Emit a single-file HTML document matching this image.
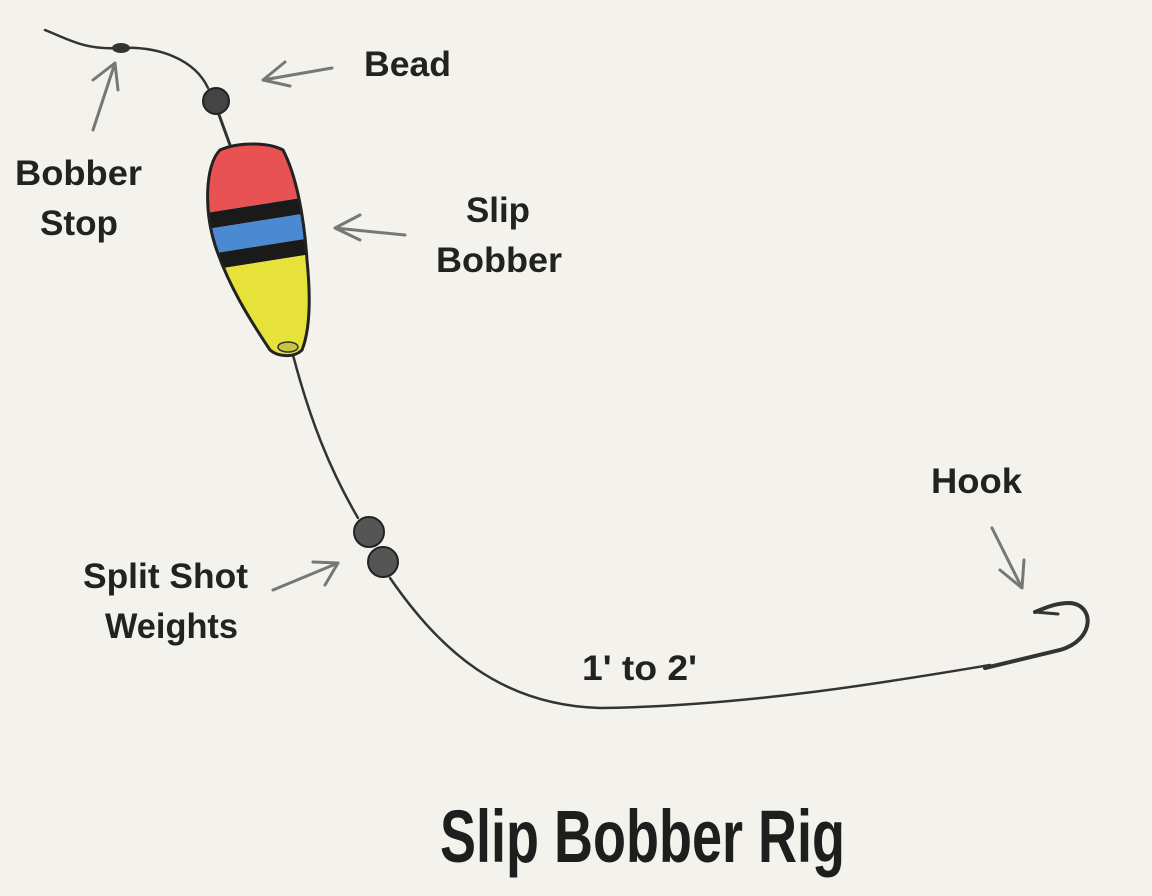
<!DOCTYPE html>
<html><head><meta charset="utf-8"><style>
html,body{margin:0;padding:0;background:#f4f2ec;}
svg{display:block}
text{font-family:"Liberation Sans",sans-serif;font-weight:bold;fill:#222;}
</style></head><body>
<svg width="1152" height="896" viewBox="0 0 1152 896">
<rect width="1152" height="896" fill="#f4f2ec"/>
<g fill="none" stroke="#333" stroke-linecap="round">
<path d="M45 30 C70 40 85 50 120 48 C160 46 195 60 208 88" stroke-width="2.5"/>
<path d="M218 112 L230 145" stroke-width="3"/>
<path d="M293 355 C310 420 330 470 358 518" stroke-width="2.5"/>
<path d="M390 578 C440 650 500 705 600 708 C750 706 900 680 990 665" stroke-width="2.5"/>
<path d="M985 668 L1060 650 C1095 640 1095 605 1070 603 C1055 603 1045 608 1035 612" stroke-width="4"/>
<path d="M1035 612 L1058 614" stroke-width="3"/>
</g>
<ellipse cx="121" cy="48" rx="9" ry="5" fill="#333"/>
<circle cx="216" cy="101" r="13" fill="#444" stroke="#222" stroke-width="2"/>
<clipPath id="c"><path id="bp" d="M220 150 C238 142 268 142 283 150 C296 175 304 215 307 260 C311 300 310 330 302 350 C294 358 278 357 270 350 C250 320 228 285 215 245 C204 210 205 165 220 150 Z"/></clipPath>
<g clip-path="url(#c)">
<g transform="rotate(-9 258 220)">
<rect x="180" y="130" width="160" height="75" fill="#e85252"/>
<rect x="180" y="205" width="160" height="16" fill="#1a1a1a"/>
<rect x="180" y="221" width="160" height="25" fill="#4a8ad2"/>
<rect x="180" y="246" width="160" height="16" fill="#1a1a1a"/>
<rect x="180" y="262" width="160" height="120" fill="#e6e23a"/>
</g>
</g>
<use href="#bp" fill="none" stroke="#222" stroke-width="3"/>
<ellipse cx="288" cy="347" rx="10" ry="5" fill="#c8c440" stroke="#333" stroke-width="1.5"/>
<circle cx="369" cy="532" r="15" fill="#555" stroke="#222" stroke-width="2"/>
<circle cx="383" cy="562" r="15" fill="#555" stroke="#222" stroke-width="2"/>
<g fill="none" stroke="#777" stroke-width="3" stroke-linecap="round" stroke-linejoin="round">
<path d="M93 130 L115 63 M93 80 L115 63 L118 90"/>
<path d="M332 68 L263 80 M285 62 L263 80 L290 86"/>
<path d="M405 235 L335 228 M360 215 L335 228 L360 240"/>
<path d="M273 590 L338 563 M313 562 L338 563 L325 585"/>
<path d="M992 528 L1022 588 M1000 570 L1022 588 L1024 560"/>
</g>
<g font-size="35">
<text x="364" y="76" textLength="87" lengthAdjust="spacingAndGlyphs">Bead</text>
<text x="15" y="185" textLength="127" lengthAdjust="spacingAndGlyphs">Bobber</text>
<text x="40" y="235" textLength="78" lengthAdjust="spacingAndGlyphs">Stop</text>
<text x="466" y="222" textLength="64" lengthAdjust="spacingAndGlyphs">Slip</text>
<text x="436" y="272" textLength="126" lengthAdjust="spacingAndGlyphs">Bobber</text>
<text x="931" y="493" textLength="91" lengthAdjust="spacingAndGlyphs">Hook</text>
<text x="83" y="588" textLength="165" lengthAdjust="spacingAndGlyphs">Split Shot</text>
<text x="105" y="638" textLength="133" lengthAdjust="spacingAndGlyphs">Weights</text>
<text x="582" y="680" textLength="115" lengthAdjust="spacingAndGlyphs">1' to 2'</text>
</g>
<text x="440" y="862" font-size="74" textLength="405" lengthAdjust="spacingAndGlyphs" style="fill:#1e1e1e">Slip Bobber Rig</text>
</svg>
</body></html>
